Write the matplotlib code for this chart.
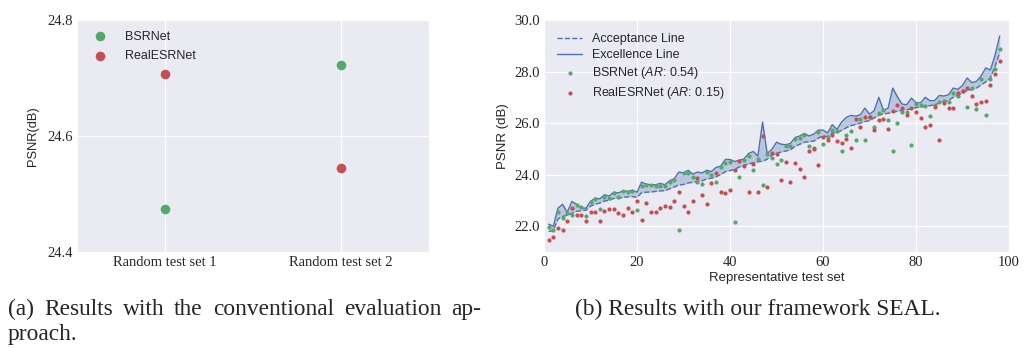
import numpy as np
import matplotlib
matplotlib.use("Agg")
import matplotlib.pyplot as plt
import seaborn as sns

# ---------------- data ----------------
sets_a = ["Random test set 1", "Random test set 2"]
bsr_a = [24.474, 24.722]
real_a = [24.707, 24.545]

idx = list(range(1, 99))
acceptance = [21.80, 21.83, 22.28, 22.38, 22.42, 22.50, 22.58, 22.60, 22.62, 22.78,
              22.85, 22.90, 22.98, 23.00, 23.08, 23.08, 23.12, 23.14, 23.15, 23.12,
              23.30, 23.32, 23.33, 23.35, 23.37, 23.38, 23.45, 23.52, 23.60, 23.62,
              23.68, 23.70, 23.74, 23.76, 23.84, 23.86, 23.92, 24.00, 24.12, 24.16,
              24.20, 24.30, 24.36, 24.42, 24.46, 24.50, 24.52, 24.60, 24.76, 24.82,
              24.88, 24.92, 24.96, 25.10, 25.18, 25.26, 25.28, 25.30, 25.42, 25.50,
              25.48, 25.62, 25.62, 25.72, 25.82, 25.90, 25.95, 26.00, 26.06, 26.10,
              26.20, 26.30, 26.36, 26.38, 26.42, 26.46, 26.50, 26.52, 26.56, 26.60,
              26.62, 26.66, 26.68, 26.70, 26.78, 26.84, 26.88, 27.00, 27.08, 27.18,
              27.26, 27.30, 27.36, 27.48, 27.60, 27.76, 28.20, 28.72]
excellence = [22.08, 22.00, 22.70, 22.85, 22.54, 22.96, 22.85, 22.70, 22.70, 22.96,
              23.09, 23.06, 23.22, 23.17, 23.32, 23.29, 23.37, 23.35, 23.40, 23.32,
              23.71, 23.63, 23.61, 23.61, 23.66, 23.61, 23.76, 23.84, 24.10, 24.07,
              24.17, 24.02, 24.10, 24.07, 24.17, 24.12, 24.28, 24.33, 24.59, 24.59,
              24.51, 24.56, 24.61, 24.82, 24.90, 24.72, 26.04, 24.82, 24.98, 25.26,
              25.18, 25.16, 25.21, 25.44, 25.50, 25.60, 25.50, 25.57, 25.73, 25.73,
              25.62, 25.94, 25.75, 26.04, 26.22, 26.30, 26.27, 26.32, 26.58, 26.35,
              26.48, 27.00, 26.50, 26.58, 27.36, 27.02, 26.74, 26.71, 26.97, 26.79,
              26.79, 27.00, 26.87, 26.87, 27.07, 27.05, 27.10, 27.36, 27.31, 27.46,
              27.75, 27.57, 27.62, 27.83, 28.14, 28.06, 28.63, 29.38]
bsr_b = [21.96, 21.85, 22.54, 22.30, 22.52, 22.44, 22.83, 22.75, 22.38, 22.95,
         23.06, 22.67, 23.15, 23.09, 23.28, 23.15, 23.35, 23.34, 23.38, 22.62,
         23.55, 23.58, 23.58, 23.55, 23.56, 23.55, 23.72, 23.80, 21.84, 24.05,
         24.07, 23.92, 23.73, 23.63, 24.12, 24.00, 23.71, 24.30, 24.46, 24.49,
         22.18, 23.92, 24.55, 24.72, 24.17, 24.59, 23.61, 24.80, 24.64, 24.43,
         24.56, 25.10, 25.13, 25.39, 25.44, 25.52, 25.13, 25.05, 25.65, 25.18,
         25.47, 25.75, 25.70, 24.93, 25.55, 25.68, 25.34, 26.17, 25.34, 26.25,
         25.86, 26.40, 26.49, 26.14, 24.93, 25.99, 26.43, 26.45, 25.16, 26.74,
         26.72, 26.66, 26.27, 26.72, 26.80, 26.85, 26.82, 27.18, 27.05, 27.25,
         26.61, 27.36, 26.56, 27.72, 26.30, 27.73, 28.11, 28.89]
real_b = [21.48, 21.57, 21.92, 21.87, 22.21, 22.72, 22.45, 22.45, 22.21, 22.56,
          22.56, 22.22, 22.60, 22.67, 22.65, 22.52, 22.45, 22.70, 22.56, 22.98,
          22.26, 22.91, 22.54, 22.54, 22.72, 22.80, 22.75, 22.97, 23.33, 22.78,
          22.57, 22.97, 23.88, 23.22, 22.88, 23.66, 24.07, 23.32, 23.27, 23.40,
          24.17, 24.52, 24.33, 23.32, 24.41, 23.33, 25.50, 23.53, 24.85, 24.80,
          23.79, 24.49, 23.73, 24.46, 24.23, 23.92, 24.90, 24.99, 24.38, 25.46,
          25.34, 25.52, 25.29, 25.24, 25.39, 25.03, 26.17, 25.86, 26.22, 26.22,
          25.75, 26.14, 26.17, 25.78, 26.48, 26.69, 26.58, 26.32, 26.58, 26.45,
          26.19, 25.83, 25.91, 26.63, 25.34, 26.79, 26.58, 26.58, 27.15, 27.23,
          27.36, 27.07, 26.74, 26.82, 26.87, 27.46, 27.90, 28.42]

caption_a1 = "(a) Results with the conventional evaluation ap-"
caption_a2 = "proach."
caption_b = "(b) Results with our framework SEAL."

# ---------------- style ----------------
sns.set_style("darkgrid")
plt.rcParams['font.family'] = ['Liberation Sans', 'DejaVu Sans']
plt.rcParams['mathtext.fontset'] = 'custom'
plt.rcParams['mathtext.rm'] = 'Liberation Sans'
plt.rcParams['mathtext.it'] = 'Liberation Sans:italic'

GREEN = "#55A868"
RED = "#C44E52"
BLUE = "#4C72B0"
SERIF = ['Liberation Serif', 'DejaVu Serif']

fig = plt.figure(figsize=(10.32, 3.48), dpi=100)
W, H = 1032, 348

def axes_px(x0, y0, x1, y1):
    return fig.add_axes([x0 / W, 1 - y1 / H, (x1 - x0) / W, (y1 - y0) / H])

# ---------------- left panel ----------------
ax1 = axes_px(77, 20, 429, 252)
xs = np.arange(len(sets_a))
ax1.scatter(xs, bsr_a, s=48, color=GREEN, label="BSRNet", zorder=3, linewidths=0)
ax1.scatter(xs, real_a, s=48, color=RED, label="RealESRNet", zorder=3, linewidths=0)
ax1.set_xlim(-0.5, 1.5)
ax1.set_ylim(24.4, 24.8)
ax1.set_xticks(xs)
ax1.set_xticklabels(sets_a)
ax1.set_yticks([24.4, 24.6, 24.8])
ax1.set_yticklabels(["24.4", "24.6", "24.8"])
ax1.set_ylabel("PSNR(dB)", fontsize=9.3, labelpad=6)
for lab in ax1.get_xticklabels() + ax1.get_yticklabels():
    lab.set_fontfamily(SERIF)
    lab.set_fontsize(10.5)
    lab.set_color("#262626")
ax1.tick_params(axis='both', length=0, pad=3)
ax1.legend(loc="upper left", frameon=False, fontsize=9, handletextpad=1.0,
           borderaxespad=0.45, labelspacing=0.6)

# ---------------- right panel ----------------
ax2 = axes_px(544, 20, 1009, 252)
ax2.fill_between(idx, acceptance, excellence, color=BLUE, alpha=0.3, linewidth=0, zorder=2)
ax2.plot(idx, acceptance, color=BLUE, linestyle="--", linewidth=1.0, label="Acceptance Line", zorder=3)
ax2.plot(idx, excellence, color=BLUE, linestyle="-", linewidth=1.0, label="Excellence Line", zorder=3)
ax2.scatter(idx, bsr_b, s=9, color=GREEN, linewidths=0, zorder=4,
            label=r"BSRNet ($\mathit{AR}$: 0.54)")
ax2.scatter(idx, real_b, s=9, color=RED, linewidths=0, zorder=4,
            label=r"RealESRNet ($\mathit{AR}$: 0.15)")
ax2.set_xlim(0, 100)
ax2.set_ylim(21.0, 30.0)
ax2.set_xticks([0, 20, 40, 60, 80, 100])
ax2.set_yticks([22, 24, 26, 28, 30])
ax2.set_yticklabels(["22.0", "24.0", "26.0", "28.0", "30.0"])
ax2.set_xlabel("Representative test set", fontsize=9.5, labelpad=2)
ax2.set_ylabel("PSNR (dB)", fontsize=9.5, labelpad=4)
for lab in ax2.get_xticklabels() + ax2.get_yticklabels():
    lab.set_fontfamily(SERIF)
    lab.set_fontsize(10.5)
    lab.set_color("#262626")
ax2.tick_params(axis='both', length=0, pad=3)
ax2.legend(loc="upper left", frameon=False, fontsize=9, handlelength=2.0,
           handletextpad=0.8, borderaxespad=0.65, labelspacing=0.32, scatterpoints=1)

# ---------------- captions ----------------
CAP_FS = 16.8
renderer = fig.canvas.get_renderer()

def justified(text, x0, x1, y):
    words = text.split(" ")
    arts = [fig.text(0, 0, w, fontfamily=SERIF, fontsize=CAP_FS, ha="left", va="baseline")
            for w in words]
    widths = [a.get_window_extent(renderer).width for a in arts]
    gap = ((x1 - x0) - sum(widths)) / max(len(words) - 1, 1)
    x = x0
    for a, wd in zip(arts, widths):
        a.set_position((x / W, 1 - y / H))
        x += wd + gap

justified(caption_a1, 8, 481, 315)
fig.text(8 / W, 1 - 340 / H, caption_a2, fontfamily=SERIF, fontsize=CAP_FS,
         ha="left", va="baseline")
fig.text(575 / W, 1 - 315 / H, caption_b, fontfamily=SERIF, fontsize=CAP_FS,
         ha="left", va="baseline")

fig.savefig("out.png", dpi=100)
